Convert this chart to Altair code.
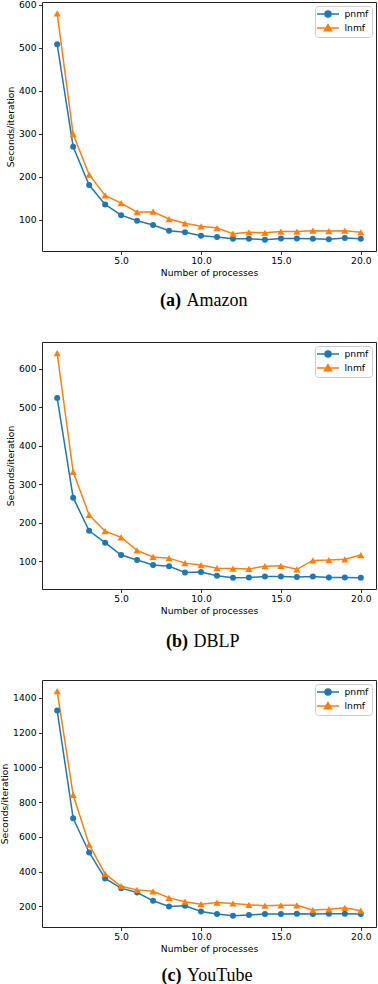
import altair as alt
import pandas as pd

processes = list(range(1, 21))
series_names = ["pnmf", "lnmf"]

amazon_pnmf = [508, 270, 181, 136, 111, 98, 88, 75, 71, 63, 60, 56, 56, 54, 57, 57, 56, 55, 58, 56]
amazon_lnmf = [580, 299, 205, 157, 139, 118, 119, 102, 92, 85, 81, 68, 71, 70, 73, 73, 75, 74, 75, 71]
dblp_pnmf = [524, 265, 179, 148, 116, 103, 90, 87, 71, 72, 62, 57, 58, 60, 60, 59, 60, 58, 58, 57]
dblp_lnmf = [640, 332, 220, 178, 162, 128, 111, 108, 95, 90, 82, 81, 80, 87, 88, 79, 102, 103, 105, 116]
youtube_pnmf = [1327, 707, 510, 361, 305, 280, 232, 200, 204, 171, 156, 146, 150, 156, 156, 158, 156, 158, 158, 156]
youtube_lnmf = [1438, 841, 556, 387, 316, 295, 287, 249, 227, 213, 222, 217, 209, 204, 206, 206, 179, 183, 192, 175]

x_ticks = [5, 10, 15, 20]
amazon_yticks = [100, 200, 300, 400, 500, 600]
dblp_yticks = [100, 200, 300, 400, 500, 600]
youtube_yticks = [200, 400, 600, 800, 1000, 1200, 1400]

captions = [("(a)", "Amazon"), ("(b)", "DBLP"), ("(c)", "YouTube")]

COLORS = ["#1f77b4", "#ff7f0e"]
MARKERS = ["circle", "triangle-up"]
MARKER_SIZES = [36, 52]
LEGEND_SHAPES = [
    "M-2.75,0H2.75M0.75,0A0.75,0.75,0,1,1,-0.75,0A0.75,0.75,0,1,1,0.75,0Z",
    "M-2.75,0H2.75M0,-0.85L0.9,0.7L-0.9,0.7Z",
]
FONT = "DejaVu Sans"
FS = 9.2
W = 334


def panel(pnmf, lnmf, yticks, height, caption, cap_right, cap_base):
    df = pd.DataFrame({
        "processes": processes + processes,
        "seconds": pnmf + lnmf,
        "series": ["pnmf"] * len(pnmf) + ["lnmf"] * len(lnmf),
    })
    vals = pnmf + lnmf
    lo, hi = min(vals), max(vals)
    m = 0.05 * (hi - lo)
    x = alt.X("processes:Q",
              scale=alt.Scale(domain=[0.05, 20.95], nice=False, zero=False),
              axis=alt.Axis(values=x_ticks, format=".1f", title="Number of processes",
                            titlePadding=3, labelPadding=1.5))
    y = alt.Y("seconds:Q",
              scale=alt.Scale(domain=[lo - m, hi + m], nice=False, zero=False),
              axis=alt.Axis(values=yticks, format="d", title="Seconds/iteration", titlePadding=3))
    layers = []
    for name, col in zip(series_names, COLORS):
        layers.append(alt.Chart(df).transform_filter(alt.datum.series == name).mark_line(
            strokeWidth=1.5, color=col).encode(x=x, y=y))
    for name, col, shp, sz in zip(series_names, COLORS, MARKERS, MARKER_SIZES):
        layers.append(alt.Chart(df).transform_filter(alt.datum.series == name).mark_point(
            shape=shp, size=sz, filled=True, opacity=1, color=col).encode(x=x, y=y))
    leg = alt.Legend(title=None, orient="top-right", offset=4, padding=3,
                     symbolSize=64, symbolStrokeWidth=1.5, symbolOffset=5,
                     labelOffset=11.5, rowPadding=1, labelFont=FONT, labelFontSize=FS,
                     labelColor="black", strokeColor="#cccccc", cornerRadius=3,
                     fillColor="white")
    layers.append(alt.Chart(df).transform_filter("false").mark_point(
        filled=True, opacity=1, size=64, strokeWidth=1.5).encode(
        x=x, y=y,
        fill=alt.Fill("series:N", scale=alt.Scale(domain=series_names, range=COLORS), legend=leg),
        stroke=alt.Stroke("series:N", scale=alt.Scale(domain=series_names, range=COLORS), legend=leg),
        shape=alt.Shape("series:N", scale=alt.Scale(domain=series_names, range=LEGEND_SHAPES), legend=leg),
    ))
    cap_df = pd.DataFrame({"a": [caption[0]], "b": [caption[1]]})
    layers.append(alt.Chart(cap_df).mark_text(
        align="right", baseline="alphabetic", font="Liberation Serif",
        fontSize=18, fontWeight="bold", color="black").encode(
        x=alt.value(cap_right), y=alt.value(cap_base), text="a:N"))
    layers.append(alt.Chart(cap_df).mark_text(
        align="left", baseline="alphabetic", font="Liberation Serif",
        fontSize=18, color="black").encode(
        x=alt.value(cap_right + 5.5), y=alt.value(cap_base), text="b:N"))
    return alt.layer(*layers).properties(width=W, height=height)


pa = panel(amazon_pnmf, amazon_lnmf, amazon_yticks, 249, captions[0], 139, 304)
pb = panel(dblp_pnmf, dblp_lnmf, dblp_yticks, 247, captions[1], 146, 305)
pc = panel(youtube_pnmf, youtube_lnmf, youtube_yticks, 247, captions[2], 139.5, 301)

chart = alt.vconcat(pa, pb, pc, spacing=91, bounds="flush").resolve_scale(
    fill="independent", stroke="independent", shape="independent"
).properties(
    padding={"left": 0, "top": 0, "right": 0, "bottom": 0}
).configure_axis(
    labelFont=FONT, labelFontSize=FS, labelColor="black",
    titleFont=FONT, titleFontSize=FS, titleFontWeight="normal", titleColor="black",
    tickColor="black", tickSize=3.5, tickWidth=0.8, domain=False, grid=False, labelPadding=2.5,
).configure_view(stroke="#222222", strokeWidth=1)

chart.save("out.html", embed_options={"renderer": "svg", "actions": False})
